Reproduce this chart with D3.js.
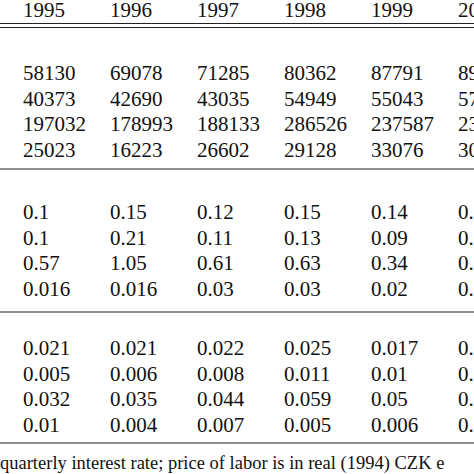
<!DOCTYPE html>
<html><head><meta charset="utf-8">
<script src="https://cdn.jsdelivr.net/npm/d3@7.9.0/dist/d3.min.js"></script>
<style>body{margin:0;background:#fff;overflow:hidden}text{font-family:"Liberation Serif","DejaVu Serif",serif;fill:#111}</style>
</head><body><svg id="chart" width="474" height="474"></svg>
<script>
// Column headers (last one is cut off at the right edge)
const years = ['1995', '1996', '1997', '1998', '1999', '2000'];

// Three blocks of four rows each
const block1 = [
  ['58130', '69078', '71285', '80362', '87791', '89'],
  ['40373', '42690', '43035', '54949', '55043', '57'],
  ['197032', '178993', '188133', '286526', '237587', '23'],
  ['25023', '16223', '26602', '29128', '33076', '30']
];
const block2 = [
  ['0.1', '0.15', '0.12', '0.15', '0.14', '0.'],
  ['0.1', '0.21', '0.11', '0.13', '0.09', '0.'],
  ['0.57', '1.05', '0.61', '0.63', '0.34', '0.'],
  ['0.016', '0.016', '0.03', '0.03', '0.02', '0.']
];
const block3 = [
  ['0.021', '0.021', '0.022', '0.025', '0.017', '0.'],
  ['0.005', '0.006', '0.008', '0.011', '0.01', '0.'],
  ['0.032', '0.035', '0.044', '0.059', '0.05', '0.'],
  ['0.01', '0.004', '0.007', '0.005', '0.006', '0.']
];
const footnote = 'quarterly interest rate; price of labor is in real (1994) CZK e';

const svg = d3.select('#chart');
const x = d3.scalePoint().domain(years).range([23, 458]);
const rowY = d3.scaleLinear().domain([0, 1]).range([0, 25.6]);

function drawBlock(rows, top) {
  rows.forEach((r, i) => {
    svg.selectAll(null).data(r).enter().append('text')
      .attr('x', (d, j) => x(years[j]))
      .attr('y', top + rowY(i))
      .attr('font-size', 21)
      .text(d => d);
  });
}

svg.selectAll(null).data(years).enter().append('text')
  .attr('x', d => x(d)).attr('y', 17).attr('font-size', 21).text(d => d);

function rule(y, w) {
  svg.append('line').attr('x1', 0).attr('x2', 474).attr('y1', y).attr('y2', y)
    .attr('stroke', '#222').attr('stroke-width', w || 1.2);
}
rule(23.5); rule(27.5);
drawBlock(block1, 80);
rule(169);
drawBlock(block2, 219);
rule(312);
drawBlock(block3, 355);
rule(443);

svg.append('text').attr('x', 0).attr('y', 469).attr('font-size', 18.5).text(footnote);
</script></body></html>
